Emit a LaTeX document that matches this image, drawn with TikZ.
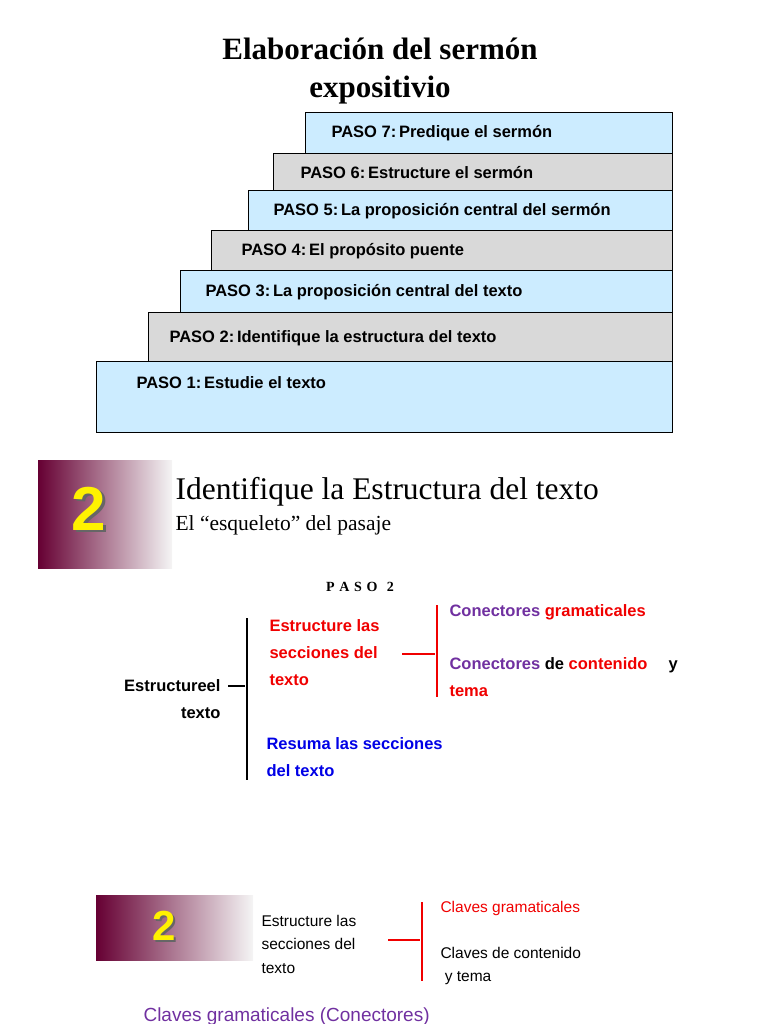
\documentclass[tikz,border=0pt]{standalone}
\usepackage{fontspec}
\setmainfont{Liberation Sans}
\newfontfamily\serif{Liberation Serif}
\definecolor{stepblue}{RGB}{204,236,255}
\definecolor{stepgray}{RGB}{217,217,217}
\definecolor{maroon}{RGB}{102,0,51}
\definecolor{purp}{RGB}{112,48,160}
\definecolor{redt}{RGB}{240,0,0}
\definecolor{bluet}{RGB}{0,0,230}
\begin{document}
\begin{tikzpicture}[x=1pt,y=-1pt,
  stepbox/.style={draw=black,line width=0.6pt},
  steptxt/.style={anchor=west,font=\bfseries\fontsize{16.5}{19}\selectfont},
  badge/.style={left color=maroon,right color=white!92!gray,draw=none},
  two/.style={text=yellow},
  lbl/.style={anchor=west,align=left,font=\bfseries\fontsize{16.5}{27}\selectfont},
  sml/.style={anchor=west,align=left,font=\fontsize{15.5}{23.5}\selectfont}]
\useasboundingbox (0,0) rectangle (768,1024);
\clip (0,0) rectangle (768,1024);
\node[font=\serif\bfseries\fontsize{31}{38}\selectfont,align=center] (title) at (380,71) {Elaboración del sermón\\expositivio};
\fill[stepblue,stepbox] (305,112) rectangle (672,153);
\fill[stepgray,stepbox] (273,153) rectangle (672,190);
\fill[stepblue,stepbox] (248,190) rectangle (672,230);
\fill[stepgray,stepbox] (211,230) rectangle (672,270);
\fill[stepblue,stepbox] (180,270) rectangle (672,312);
\fill[stepgray,stepbox] (148,312) rectangle (672,361);
\fill[stepblue,stepbox] (96,361) rectangle (672,432);
\node[steptxt] (p7) at (328,133) {PASO 7:\,Predique el sermón};
\node[steptxt] (p6) at (297,173) {PASO 6:\,Estructure el sermón};
\node[steptxt] (p5) at (270,211) {PASO 5:\,La proposición central del sermón};
\node[steptxt] (p4) at (238,251) {PASO 4:\,El propósito puente};
\node[steptxt] (p3) at (202,292) {PASO 3:\,La proposición central del texto};
\node[steptxt] (p2) at (166,338) {PASO 2:\,Identifique la estructura del texto};
\node[steptxt] (p1) at (133,383) {PASO 1:\,Estudie el texto};
% badge 1
\shade[badge] (38,460) rectangle (172,568);
\node[two,font=\bfseries\fontsize{62}{62}\selectfont] (b1) at (89,510) {\makebox[0pt][l]{\kern2.5pt\raisebox{-2.5pt}{\textcolor{black!60}{2}}}2};
\node[anchor=west,font=\serif\fontsize{31.5}{34}\selectfont] (h1) at (172,492) {Identifique la Estructura del texto};
\node[anchor=west,font=\serif\fontsize{21.5}{24}\selectfont] (h2) at (172,525) {El “esqueleto” del pasaje};
\node[font=\serif\bfseries\fontsize{14}{15}\selectfont] (paso) at (360,587) {P\,\,A\,\,S\,\,O\,\,\,\,2};
% tree
\draw[line width=2pt] (247,618) -- (247,780);
\draw[line width=1.5pt] (228,686) -- (245,686);
\node[anchor=east,align=right,font=\bfseries\fontsize{16.5}{27}\selectfont] (est) at (224,699) {Estructureel\\texto};
\node[lbl,text=redt] (sec) at (266,653) {Estructure las\\secciones del\\texto};
\draw[redt,line width=1.2pt] (402,654) -- (435,654);
\draw[redt,line width=1.5pt] (437,605) -- (437,697);
\node[lbl] (c1) at (446,612) {\textcolor{purp}{Conectores}\ \textcolor{redt}{gramaticales}};
\node[lbl] (c2) at (446,677) {\textcolor{purp}{Conectores} de \textcolor{redt}{contenido}\quad\ y\\\textcolor{redt}{tema}};
\node[lbl,text=bluet] (res) at (263,757) {Resuma las secciones\\del texto};
% badge 2
\shade[badge] (96,895) rectangle (253,960);
\node[two,font=\bfseries\fontsize{42}{42}\selectfont] (b2) at (164,927) {\makebox[0pt][l]{\kern2pt\raisebox{-2pt}{\textcolor{black!60}{2}}}2};
\node[sml] (s2) at (258,944) {Estructure las\\secciones del\\texto};
\draw[redt,line width=1.5pt] (388,940) -- (420,940);
\draw[redt,line width=1.5pt] (422,902) -- (422,981);
\node[sml,text=redt] (k1) at (437,908) {Claves gramaticales};
\node[sml] (k2) at (437,966) {Claves de contenido\\\ y tema};
\node[anchor=west,text=purp,font=\fontsize{19}{22}\selectfont] (k3) at (140,1017) {Claves gramaticales (Conectores)};
\end{tikzpicture}
\end{document}
